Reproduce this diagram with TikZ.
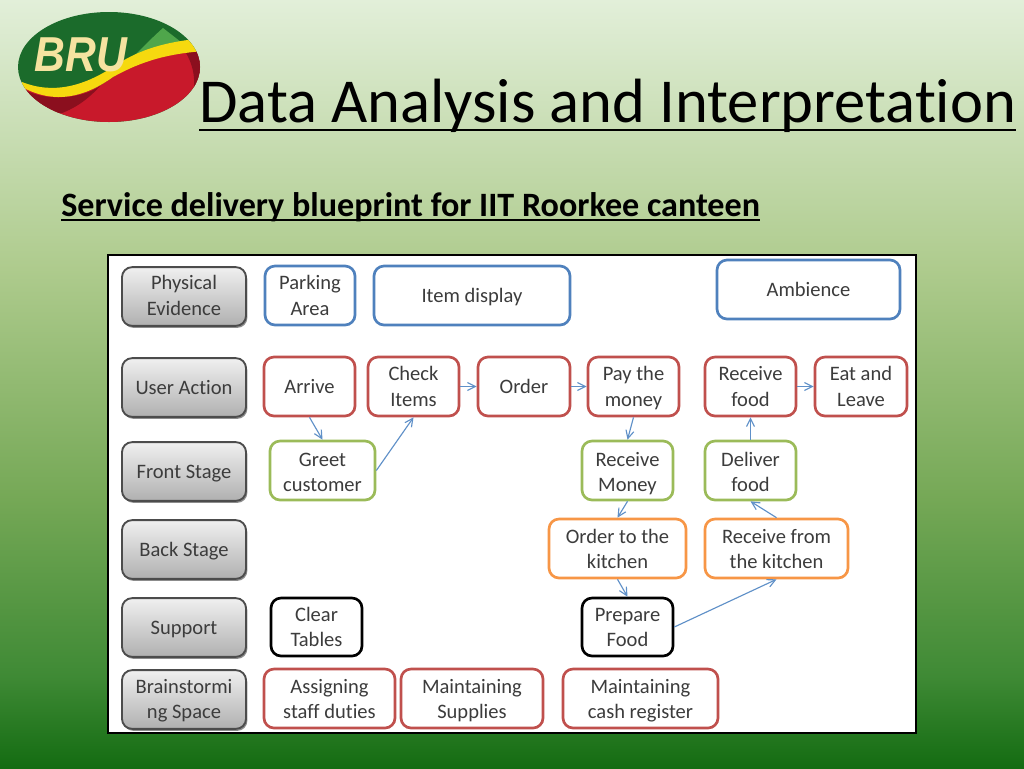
\documentclass[tikz,border=0pt]{standalone}
\usepackage{fontspec}
\setmainfont[Ligatures=NoCommon]{Carlito}
\newfontfamily\logofont{Liberation Sans}
\usetikzlibrary{arrows.meta,shadows}
\definecolor{bgT}{HTML}{E2EFD9}
\definecolor{bgA}{HTML}{AECB8D}
\definecolor{bgB}{HTML}{75A856}
\definecolor{bgC}{HTML}{3F8A35}
\definecolor{bgD}{HTML}{146C12}
\definecolor{boxblue}{HTML}{4F81BD}
\definecolor{boxred}{HTML}{C0504D}
\definecolor{boxgreen}{HTML}{9BBB59}
\definecolor{boxorange}{HTML}{F79646}
\definecolor{linkblue}{HTML}{5F90C8}
\definecolor{boxtext}{HTML}{3C3C3C}
\definecolor{logogreen}{HTML}{1B6B2B}
\definecolor{logolight}{HTML}{4FA64B}
\definecolor{logored}{HTML}{C8192B}
\definecolor{logodark}{HTML}{8B0F1E}
\definecolor{logoyellow}{HTML}{F6D90F}
\definecolor{logotext}{HTML}{F5E3A0}
\pgfdeclareverticalshading{slidebg}{100bp}{
 color(0bp)=(bgD); color(25bp)=(bgD); color(31bp)=(bgC); color(42.5bp)=(bgB); color(57.5bp)=(bgA); color(75bp)=(bgT); color(100bp)=(bgT)}
\newcommand{\twolines}[3][16]{\rule{0pt}{#1pt}#2\\\rule[-5.6pt]{0pt}{5.6pt}#3}
\tikzset{
 x=0.75pt,y=-0.75pt,
 lab/.style={align=center,inner sep=0pt,text=boxtext,rounded corners=7.5pt,line width=2pt,
   font=\fontsize{15.4}{19.1}\selectfont,
   execute at begin node={\rule{0pt}{16pt}},execute at end node=\strut},
 bluebox/.style={lab,draw=boxblue,fill=white},
 redbox/.style={lab,draw=boxred,fill=white},
 greenbox/.style={lab,draw=boxgreen,fill=white},
 orangebox/.style={lab,draw=boxorange,fill=white},
 blackbox/.style={lab,draw=black,fill=white},
 graybox/.style={lab,draw=black!70,line width=1.4pt,top color=gray!12,bottom color=gray!62,
   general shadow={shadow xshift=1pt,shadow yshift=-1.5pt,fill=black!45},
   minimum width=93pt,minimum height=44pt},
 link/.style={draw=linkblue,line width=0.85pt,-{Straight Barb[length=6pt,width=6pt]}},
 sz/.style 2 args={minimum width=#1*0.75pt,minimum height=#2*0.75pt},
}
\begin{document}
\begin{tikzpicture}
\useasboundingbox (0,0) rectangle (1024,768);
\shade[shading=slidebg] (0,0) rectangle (1024,768);
% logo
\begin{scope}
 \clip (109,67) ellipse [x radius=91,y radius=55];
 \fill[logogreen] (0,0) rectangle (210,130);
 \fill[logolight] (133,57) .. controls (145,45) and (155,35) .. (163,28) -- (181,42) .. controls (165,44) and (148,50) .. (133,57) -- cycle;
 \fill[logored] (20,85) .. controls (55,105) and (85,97) .. (113,77) .. controls (135,62) and (160,54) .. (205,51) -- (205,130) -- (15,130) -- cycle;
 \fill[logodark] (25,90) .. controls (50,103) and (85,97) .. (100,86) .. controls (85,103) and (70,110) .. (62,113) -- (20,110) -- cycle;
 \fill[logodark] (205,48) -- (205,100) -- (188,110) .. controls (197,90) and (196,70) .. (186,53) -- cycle;
 \fill[logoyellow] (22,82) .. controls (55,95) and (85,85) .. (113,67) .. controls (135,52) and (160,42) .. (205,38) -- (205,51) .. controls (160,54) and (135,65) .. (113,77) .. controls (85,97) and (55,105) .. (22,87) -- cycle;
\end{scope}
\node[inner sep=0pt,text=logotext,yscale=1.15,transform shape,font=\logofont\fontsize{32}{32}\selectfont\bfseries\itshape] (bru) at (81,55) {BRU};
% title
\node[anchor=base west,inner sep=0pt,font=\fontsize{46.9}{46}\selectfont] (title) at (199,122) {Data Analysis and Interpretation};
\draw[line width=2.2pt] ([yshift=-6pt]title.base west) -- ([yshift=-6pt]title.base east);
\node[anchor=base west,inner sep=0pt,font=\fontsize{25.6}{26}\selectfont\bfseries] (sub) at (61,216) {Service delivery blueprint for IIT Roorkee canteen};
\draw[line width=1.5pt] ([yshift=-3pt]sub.base west) -- ([yshift=-3pt]sub.base east);
% panel
\node[draw=black,line width=0.9pt,fill=white,inner sep=0pt,minimum width=606pt,minimum height=358.5pt] (panel) at (512,494) {};
% row labels
\node[graybox] (pe) at (184,296.5) {\twolines[14.5]{Physical}{Evidence}};
\node[graybox] (ua) at (184,387.5) {User Action};
\node[graybox] (fs) at (184,471.5) {Front Stage};
\node[graybox] (bs) at (184,549.5) {Back Stage};
\node[graybox] (su) at (184,627.5) {Support};
\node[graybox] (bm) at (184,699.5) {\twolines[15.25]{Brainstormi}{ng Space}};
% physical evidence
\node[bluebox,sz={90}{59}] (parking) at (310,295.5) {\twolines{Parking}{Area}};
\node[bluebox,sz={196}{59}] (item) at (472,295.5) {Item display};
\node[bluebox,sz={183}{59}] (amb) at (808.5,289.5) {Ambience};
% user action
\node[redbox,sz={91}{59}] (arrive) at (309.5,386.5) {Arrive};
\node[redbox,sz={91}{59}] (check) at (413.5,386.5) {\twolines{Check}{Items}};
\node[redbox,sz={92}{59}] (order) at (524,386.5) {Order};
\node[redbox,sz={91}{59}] (pay) at (633.5,386.5) {\twolines{Pay the}{money}};
\node[redbox,sz={91}{59}] (food) at (750.5,386.5) {\twolines{Receive}{food}};
\node[redbox,sz={92}{59}] (eat) at (861,386.5) {\twolines{Eat and}{Leave}};
% front stage
\node[greenbox,sz={105}{59}] (greet) at (322.5,470.5) {\twolines[18.25]{Greet}{customer}};
\node[greenbox,sz={91}{59}] (money) at (627.5,470.5) {\twolines[18.25]{Receive}{Money}};
\node[greenbox,sz={91}{59}] (deliver) at (750.5,470.5) {\twolines[18.25]{Deliver}{food}};
% back stage
\node[orangebox,sz={137}{59}] (kitchen) at (617.5,548.5) {\twolines[16.75]{Order to the}{kitchen}};
\node[orangebox,sz={143}{59}] (recvk) at (776.5,548.5) {\twolines[16.75]{Receive from}{the kitchen}};
% support
\node[blackbox,sz={91}{58}] (clear) at (316.5,627) {\twolines{Clear}{Tables}};
\node[blackbox,sz={91}{58}] (prepare) at (627.5,627) {\twolines{Prepare}{Food}};
% brainstorming
\node[redbox,sz={131}{59}] (assign) at (329.5,698.5) {\twolines[16.75]{Assigning}{staff duties}};
\node[redbox,sz={142}{59}] (supplies) at (472,698.5) {\twolines[16.75]{Maintaining}{Supplies}};
\node[redbox,sz={155}{59}] (cash) at (640.5,698.5) {\twolines[16.75]{Maintaining}{cash register}};
% links
\draw[link] (arrive.south) -- (greet.north);
\draw[link] (greet.east) -- (check.south);
\draw[link] (check.east) -- (order.west);
\draw[link] (order.east) -- (pay.west);
\draw[link] (pay.south) -- (money.north);
\draw[link] (money.south) -- (kitchen.north);
\draw[link] (kitchen.south) -- (prepare.north);
\draw[link] (prepare.east) -- (recvk.south);
\draw[link] (recvk.north) -- (deliver.south);
\draw[link] (deliver.north) -- (food.south);
\draw[link] (food.east) -- (eat.west);
\end{tikzpicture}
\end{document}
